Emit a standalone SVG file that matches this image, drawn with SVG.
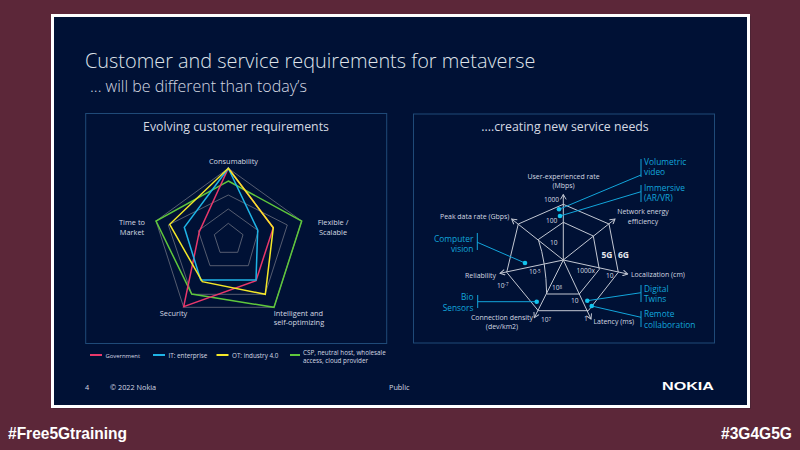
<svg xmlns="http://www.w3.org/2000/svg" width="800" height="450" viewBox="0 0 800 450">
<style>
text{font-family:"Open Sans","Noto Sans","Liberation Sans",sans-serif;fill:#d5d9e2}
.m{text-anchor:middle}.e{text-anchor:end}
.l{font-size:7.4px}
.r{font-size:6.95px}
.n{font-size:6.3px}
.v{font-size:6.6px}
.c{font-size:8.4px;fill:#12a6dc}
.f{font-size:7.3px}
.p{fill:none;stroke-linejoin:miter}
.g{stroke:#5f6577;stroke-width:.9}
.s{stroke-width:1.5}
.a{stroke:#c3c8d3;stroke-width:1;fill:none}
.b{stroke:#12a6dc;stroke-width:1;fill:none}
.d{fill:#12c4ee}
.h{font-family:"Liberation Sans",sans-serif;font-weight:bold;font-size:17px;fill:#fff}
</style>
<defs>
<marker id="ar" viewBox="0 0 8 8" refX="7" refY="4" markerWidth="6.5" markerHeight="6.5" markerUnits="userSpaceOnUse" orient="auto"><path d="M1 .5L7 4L1 7.5" fill="none" stroke="#c3c8d3" stroke-width="1.2"/></marker>
</defs>
<rect width="800" height="450" fill="#5c2739"/>
<rect x="53" y="16" width="698" height="393" fill="#3d2030" opacity=".5"/>
<rect x="52.5" y="15.5" width="696" height="391" fill="#001135" stroke="#fff" stroke-width="3"/>
<text id="title" x="85" y="68" font-size="19.9" font-weight="300" style="fill:#dfe3ea">Customer and service requirements for metaverse</text>
<text id="subtitle" x="90" y="91.500" font-size="16" font-weight="300">... will be different than today’s</text>

<g id="panel-left">
<rect x="85.7" y="113.5" width="301" height="230" fill="none" stroke="#1f4a78" stroke-width="1"/>
<text class="m" x="236" y="131" font-size="12.3">Evolving customer requirements</text>
</g>
<g id="panel-right">
<rect x="413.5" y="114" width="301" height="229" fill="none" stroke="#1f4a78" stroke-width="1"/>
<text class="m" x="565" y="131" font-size="12.3">....creating new service needs</text>
</g>

<g id="radar-left">
<g id="radar-grid">
<polygon class="p g" points="228.3,223.3 243,234.7 237.7,252.3 220,252.3 214.3,234.7"/>
<polygon class="p g" points="228.3,209 258.3,230.7 248.3,265.7 210,265.7 198.3,230.7"/>
<polygon class="p g" points="228.3,195 287.3,225 265,294.3 191.7,294.3 168.3,225"/>
<polygon class="p g" points="228.3,168.3 301.7,221 274,307.3 183.7,307.3 156,221"/>
</g>
<g id="series-green"><polygon class="p s" stroke="#5fc73c" points="228.3,181 301.7,221 274,307.3 191.7,294 156,221"/></g>
<g id="series-red"><polygon class="p s" stroke="#e8386b" points="228.3,168.3 273.3,227.7 256,280.7 183.7,306.7 199.3,231.7"/></g>
<g id="series-blue"><polygon class="p s" stroke="#1fb4e6" points="228.3,168.3 257.7,230 256,280 200.7,280 184.3,227.3"/></g>
<g id="series-yellow"><polygon class="p s" stroke="#f4e829" points="228.3,168.3 273.3,227.7 265.3,294.3 202.3,281.7 169.7,224.3"/></g>
<text class="l m" x="233.500" y="163.500">Consumability</text>
<text class="l m" x="132" y="225">Time to</text>
<text class="l m" x="132" y="234.500">Market</text>
<text class="l m" x="333" y="225">Flexible /</text>
<text class="l m" x="333" y="234.500">Scalable</text>
<text class="l m" x="173.500" y="315.500">Security</text>
<text class="l" x="273.700" y="315.500">Intelligent and</text>
<text class="l" x="273.700" y="325">self-optimizing</text>
</g>

<g id="legend">
<line x1="90" y1="355" x2="102" y2="355" stroke="#e8386b" stroke-width="2"/>
<text class="n" x="105.500" y="357.500" font-size="6" style="font-size:5.900px">Government</text>
<line x1="153" y1="355" x2="165" y2="355" stroke="#1fb4e6" stroke-width="2"/>
<text class="n" x="168.500" y="357.500">IT: enterprise</text>
<line x1="216.500" y1="355" x2="228.500" y2="355" stroke="#f4e829" stroke-width="2"/>
<text class="n" x="232" y="357.500">OT: industry 4.0</text>
<line x1="290" y1="355" x2="300" y2="355" stroke="#5fc73c" stroke-width="2"/>
<text class="n" x="303" y="354.500">CSP, neutral host, wholesale</text>
<text class="n" x="303" y="362.500">access, cloud provider</text>
</g>

<g id="connectors">
<g id="axes">
<line class="a" x1="563.3" y1="260" x2="563.3" y2="194.5" marker-end="url(#ar)"/>
<line class="a" x1="563.3" y1="260" x2="511.7" y2="219" marker-end="url(#ar)"/>
<line class="a" x1="563.3" y1="260" x2="500" y2="273.300" marker-end="url(#ar)"/>
<line class="a" x1="563.3" y1="260" x2="534.3" y2="317.7" marker-end="url(#ar)"/>
<line class="a" x1="563.3" y1="260" x2="591" y2="319" marker-end="url(#ar)"/>
<line class="a" x1="563.3" y1="260" x2="627.7" y2="274" marker-end="url(#ar)"/>
<line class="a" x1="563.3" y1="260" x2="615" y2="219" marker-end="url(#ar)"/>
</g>
<path class="a" d="M506.7 272.3L518.3 224L563.3 204.3L609 224L618.3 272.3L588.3 310.7H538.3Z"/>
<path class="a" d="M546.7 294Q546 262 538.3 239.500L563.3 222.300L593.300 236L599.300 269.300L579.300 294Z"/>
<g id="callouts">
<path class="b" d="M477.300 233V250M477.300 242.300L525 263"/>
<path class="b" d="M477.700 295V308M477.700 301.700H536.700"/>
<path class="b" d="M641 159V177M641 175L559 209.300"/>
<path class="b" d="M641 185V202M641 191.700L560 216"/>
<path class="b" d="M641 285V302M641 292.700L587.300 300.700"/>
<path class="b" d="M641 311V327M641 317.300L591.700 306"/>
</g>
</g>
<g id="dots">
<circle class="d" cx="525" cy="263" r="2.300"/>
<circle class="d" cx="536.700" cy="301.700" r="2.300"/>
<circle class="d" cx="559" cy="209.300" r="2.300"/>
<circle class="d" cx="560" cy="216" r="2.300"/>
<circle class="d" cx="587.300" cy="300.700" r="2.300"/>
<circle class="d" cx="591.700" cy="306" r="2.300"/>
</g>
<g id="radar-right-labels">
<text class="r m" x="563.500" y="178.500">User-experienced rate</text>
<text class="r m" x="563.500" y="187.500">(Mbps)</text>
<text class="r" x="440" y="219">Peak data rate (Gbps)</text>
<text class="r m" x="643" y="214">Network energy</text>
<text class="r m" x="643" y="224">efficiency</text>
<text class="r" x="465" y="277.500">Reliability</text>
<text class="r" x="631" y="277">Localization (cm)</text>
<text class="r m" x="502" y="319.500">Connection density</text>
<text class="r m" x="502" y="329">(dev/km2)</text>
<text class="r" x="593.500" y="324">Latency (ms)</text>
<text class="v" x="544" y="201.500">1000</text>
<text class="v" x="546" y="223">100</text>
<text class="v" x="550" y="245">10</text>
<text class="v" x="529" y="274">10<tspan font-size="4.500" dy="-1.500">-5</tspan></text>
<text class="v" x="497" y="287.500">10<tspan font-size="4.500" dy="-1.500">-7</tspan></text>
<text class="v" x="552" y="290">10<tspan font-size="4.500" dy="-1.500">8</tspan></text>
<text class="v" x="541" y="322">10<tspan font-size="4.500" dy="-1.500">7</tspan></text>
<text class="v" x="576.500" y="273">1000x</text>
<text class="v" x="606" y="278">10</text>
<text class="v" x="571" y="303">10</text>
<text class="v" x="584" y="321">1</text>
<text x="601.500" y="257.500" font-size="8.500" font-weight="700" style="fill:#e6e9ef">5G</text>
<text x="618" y="257.500" font-size="8.500" font-weight="700" style="fill:#e6e9ef">6G</text>
</g>
<g id="callout-labels">
<text class="c" x="644" y="165">Volumetric</text>
<text class="c" x="644" y="175">video</text>
<text class="c" x="644" y="191">Immersive</text>
<text class="c" x="644" y="201">(AR/VR)</text>
<text class="c" x="644" y="291.500">Digital</text>
<text class="c" x="644" y="301.500">Twins</text>
<text class="c" x="644" y="317">Remote</text>
<text class="c" x="644" y="327.500">collaboration</text>
<text class="c e" x="473.500" y="242">Computer</text>
<text class="c e" x="473.500" y="252">vision</text>
<text class="c e" x="473.500" y="300">Bio</text>
<text class="c e" x="473.500" y="310.500">Sensors</text>
</g>

<g id="footer">
<text class="f" x="85" y="390">4</text>
<text class="f" x="110" y="390">© 2022 Nokia</text>
<text class="f" x="389" y="390">Public</text>
<text x="662" y="390.300" font-size="11.800" font-weight="bold" style="font-family:'Liberation Sans',sans-serif;fill:#fff" textLength="52" lengthAdjust="spacingAndGlyphs">NOKIA</text>
</g>
<text class="h" x="8" y="438.500" id="tag-left" textLength="119" lengthAdjust="spacingAndGlyphs">#Free5Gtraining</text>
<text class="h" x="721" y="438.500" id="tag-right" textLength="71" lengthAdjust="spacingAndGlyphs">#3G4G5G</text>
</svg>
